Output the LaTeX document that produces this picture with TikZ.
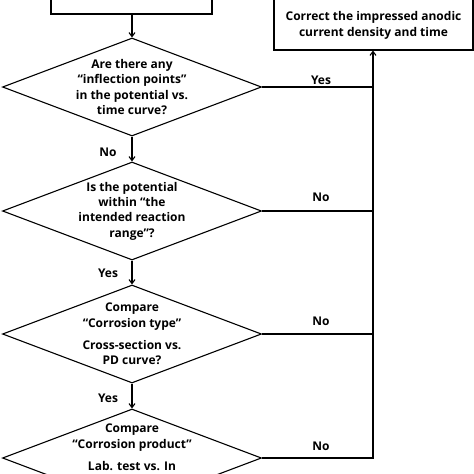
\documentclass[tikz,border=0pt]{standalone}
\usepackage{fontspec}
\setmainfont{Open Sans}
\usetikzlibrary{shapes.geometric,arrows.meta}
\begin{document}
\begin{tikzpicture}[x=1pt,y=-1pt,
  every node/.style={font=\bfseries\fontsize{12}{15.3}\selectfont},
  box/.style={draw,line width=1.1pt,rectangle,inner sep=0pt},
  dec/.style={draw,line width=1.1pt,diamond,minimum width=259pt,minimum height=98pt,inner sep=0pt},
  txt/.style={align=center,inner sep=0pt},
  conn/.style={line width=1.1pt},
  arr/.style={line width=1.1pt,-{Straight Barb[length=4pt,width=6pt,line width=1.1pt]}},
  lab/.style={inner sep=0pt}]
\useasboundingbox (0,0) rectangle (474,474);
\clip (0,0) rectangle (474,474);
\node[box,minimum width=161pt,minimum height=40pt] (top) at (131.5,-6) {};
\node[box,minimum width=199pt,minimum height=56pt] (fix) at (373.5,22) {};
\node[txt] (fixt) at (373.5,25.5) {Correct the impressed anodic\\current density and time};
\node[dec] (d1) at (132,87) {};
\node[dec] (d2) at (132,211) {};
\node[dec] (d3) at (132,334) {};
\node[dec] (d4) at (132,458) {};
\node[txt] (t1) at (d1.center) {Are there any\\“inflection points”\\in the potential vs.\\time curve?};
\node[txt] (t2) at (d2.center) {Is the potential\\within “the\\intended reaction\\range”?};
\node[txt] (t3) at (d3.center) {Compare\\“Corrosion type”\\[7pt]Cross-section vs.\\PD curve?};
\node[txt,anchor=north] (t4) at (132,424) {Compare\\“Corrosion product”\\[7pt]Lab. test vs. In};
\coordinate (j1) at (373,87);
\coordinate (j2) at (373,211);
\coordinate (j3) at (373,334);
\coordinate (j4) at (373,458);
\draw[arr] (top.south -| d1.north) -- (d1.north);
\draw[arr] (d1.south) -- (d2.north);
\draw[arr] (d2.south) -- (d3.north);
\draw[arr] (d3.south) -- (d4.north);
\draw[conn] (d1.east) -- (j1);
\draw[conn] (d2.east) -- (j2);
\draw[conn] (d3.east) -- (j3);
\draw[arr,line join=miter] (d4.east) -- (j4) -- (j4 |- fix.south);
\node[lab] at (321,80) {Yes};
\node[lab] at (321,197) {No};
\node[lab] at (321,321) {No};
\node[lab] at (321,446) {No};
\node[lab] at (108,152) {No};
\node[lab] at (108,273) {Yes};
\node[lab] at (108,398) {Yes};
\end{tikzpicture}
\end{document}
